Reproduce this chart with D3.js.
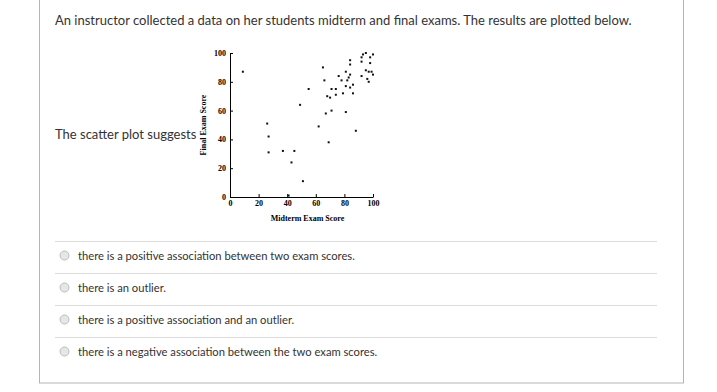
<!DOCTYPE html>
<html>
<head>
<meta charset="utf-8">
<script src="https://cdn.jsdelivr.net/npm/d3@7"></script>
<style>
  body { margin: 0; background: #fff; font-family: Lato, "Open Sans", sans-serif; }
  svg { display: block; }
</style>
</head>
<body>
<div id="visualisationContainer"></div>
<script>
// scores
var midterm = [9, 26, 27, 27, 37, 45, 43, 51, 49, 55, 62, 65, 66, 67, 68, 69, 70, 71, 71, 74,
               74, 76, 78, 79, 81, 81, 81, 82, 83, 84, 84, 84, 84, 86, 86, 88, 92, 92, 92, 93,
               95, 95, 96, 97, 97, 98, 98, 99, 100, 100, 41];
var finalExam = [87, 51, 42, 31, 32, 32, 24, 11, 64, 75, 49, 90, 81, 58, 70, 38, 69, 75, 60, 75,
                 71, 84, 81, 72, 87, 77, 59, 81, 83, 85, 95, 92, 76, 78, 72, 46, 97, 94, 84, 99,
                 100, 88, 82, 80, 87, 97, 93, 87, 99, 85, 1];
var tickValues = [0, 20, 40, 60, 80, 100];
var options = [
  "there is a positive association between two exam scores.",
  "there is an outlier.",
  "there is a positive association and an outlier.",
  "there is a negative association between the two exam scores."
];

var width = 717, height = 392;

var svg = d3.select("#visualisationContainer")
            .append("svg")
            .attr("width", width)
            .attr("height", height);

// question box
svg.append("rect")
   .attr("x", 39.5).attr("y", -5)
   .attr("width", 644).attr("height", 388)
   .attr("fill", "none")
   .attr("stroke", "#b5b5b5");

svg.append("text")
   .attr("x", 55).attr("y", 25)
   .attr("font-size", 13)
   .attr("fill", "#333")
   .text("An instructor collected a data on her students midterm and final exams. The results are plotted below.");

svg.append("text")
   .attr("x", 55).attr("y", 139)
   .attr("font-size", 13)
   .attr("fill", "#333")
   .text("The scatter plot suggests");

// scatter plot
var xScale = d3.scaleLinear().domain([0, 100]).range([230, 373]);
var yScale = d3.scaleLinear().domain([0, 100]).range([197, 53]);

var plotFont = "'Liberation Serif', 'DejaVu Serif', serif";

var gx = svg.append("g")
    .attr("transform", "translate(0," + yScale(0) + ")")
    .call(d3.axisBottom(xScale).tickValues(tickValues).tickSizeInner(-3).tickSizeOuter(0).tickPadding(3));

var gy = svg.append("g")
    .attr("transform", "translate(" + xScale(0) + ",0)")
    .call(d3.axisLeft(yScale).tickValues(tickValues).tickSizeInner(-3).tickSizeOuter(0).tickPadding(4));

[gx, gy].forEach(function(g) {
  g.selectAll("text")
   .attr("font-family", plotFont)
   .attr("font-weight", "bold")
   .attr("font-size", 8)
   .attr("fill", "#000");
  g.selectAll("path, line").attr("stroke", "#000");
});

svg.append("text")
   .attr("x", (xScale(0) + xScale(100)) / 2 + 6)
   .attr("y", 221)
   .attr("text-anchor", "middle")
   .attr("font-family", plotFont)
   .attr("font-weight", "bold")
   .attr("font-size", 8)
   .text("Midterm Exam Score");

svg.append("text")
   .attr("transform", "translate(205.5," + (yScale(0) + yScale(100)) / 2 + ") rotate(-90)")
   .attr("text-anchor", "middle")
   .attr("font-family", plotFont)
   .attr("font-weight", "bold")
   .attr("font-size", 8)
   .text("Final Exam Score");

svg.append("g")
   .selectAll("rect")
   .data(midterm)
   .join("rect")
   .attr("x", function(d) { return xScale(d) - 1; })
   .attr("y", function(d, i) { return yScale(finalExam[i]) - 1; })
   .attr("width", 2)
   .attr("height", 2)
   .attr("fill", "#111");

// answer options
var optY = d3.scaleLinear().domain([0, 1]).range([241, 273]);

var opt = svg.append("g")
   .selectAll("g")
   .data(options)
   .join("g")
   .attr("transform", function(d, i) { return "translate(0," + optY(i) + ")"; });

opt.append("line")
   .attr("x1", 55).attr("x2", 657)
   .attr("y1", 0.5).attr("y2", 0.5)
   .attr("stroke", "#dcdcdc");

opt.append("circle")
   .attr("cx", 64.5).attr("cy", 14.5)
   .attr("r", 4.5)
   .attr("fill", "#e6e6e6")
   .attr("stroke", "#bdbdbd");

opt.append("text")
   .attr("x", 78).attr("y", 19)
   .attr("font-size", 11.2)
   .attr("fill", "#333")
   .text(function(d) { return d; });
</script>
</body>
</html>
